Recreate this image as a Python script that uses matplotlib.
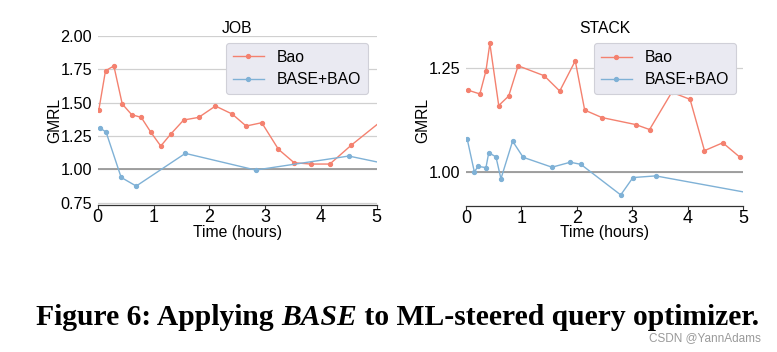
import matplotlib
matplotlib.use("Agg")
import matplotlib.pyplot as plt

# JOB panel
job_bao_t = [0.02, 0.14, 0.29, 0.44, 0.61, 0.78, 0.95, 1.13, 1.31, 1.54, 1.81,
             2.11, 2.41, 2.66, 2.94, 3.24, 3.52, 3.82, 4.16, 4.54, 5.3]
job_bao_v = [1.445, 1.74, 1.775, 1.49, 1.41, 1.39, 1.28, 1.175, 1.265, 1.37, 1.39,
             1.475, 1.415, 1.325, 1.35, 1.15, 1.05, 1.04, 1.04, 1.18, 1.435]
job_base_t = [0.04, 0.15, 0.42, 0.69, 1.57, 2.83, 4.50, 5.3]
job_base_v = [1.31, 1.28, 0.94, 0.875, 1.12, 0.995, 1.10, 1.03]

# STACK panel
stack_bao_t = [0.04, 0.25, 0.36, 0.43, 0.59, 0.77, 0.94, 1.41, 1.69, 1.97, 2.14,
               2.45, 3.06, 3.31, 3.71, 4.04, 4.30, 4.63, 4.94]
stack_bao_v = [1.197, 1.188, 1.244, 1.310, 1.160, 1.183, 1.256, 1.232, 1.195, 1.268, 1.149,
               1.131, 1.114, 1.102, 1.192, 1.175, 1.051, 1.070, 1.035]
stack_base_t = [0.02, 0.15, 0.22, 0.36, 0.41, 0.54, 0.63, 0.84, 1.03, 1.55, 1.88,
                2.07, 2.79, 3.01, 3.42, 5.3]
stack_base_v = [1.080, 1.000, 1.013, 1.010, 1.046, 1.036, 0.983, 1.074, 1.035, 1.011, 1.023,
                1.018, 0.944, 0.986, 0.990, 0.944]

xticks = [0, 1, 2, 3, 4, 5]
job_yticks = [0.75, 1.00, 1.25, 1.50, 1.75, 2.00]
stack_yticks = [1.00, 1.25]

bao_color = "#f4816f"
base_color = "#7fb1d6"

plt.rcParams["font.family"] = ["Liberation Sans", "DejaVu Sans"]
plt.rcParams["font.size"] = 11.3

fig = plt.figure(figsize=(7.77, 3.52), dpi=100)


def draw_panel(ax, title, bao_t, bao_v, base_t, base_v, ylim, yticks, leg_anchor):
    ax.plot(bao_t, bao_v, color=bao_color, lw=1.0, marker="o", ms=2.8, label="Bao", zorder=3)
    ax.plot(base_t, base_v, color=base_color, lw=1.0, marker="o", ms=2.8, label="BASE+BAO", zorder=3)
    ax.axhline(1.0, color="#999999", lw=1.3, zorder=2)
    ax.set_xlim(0, 5)
    ax.set_ylim(*ylim)
    ax.set_xticks(xticks)
    ax.set_yticks(yticks)
    ax.set_yticklabels(["%.2f" % v for v in yticks])
    ax.grid(axis="y", color="#d0d0d0", lw=0.9, zorder=1)
    for s in ["top", "right", "left"]:
        ax.spines[s].set_visible(False)
    ax.spines["bottom"].set_color("#333333")
    ax.spines["bottom"].set_linewidth(0.9)
    ax.tick_params(axis="y", length=0, pad=4, labelsize=11.7)
    ax.tick_params(axis="x", length=3, width=0.8, color="#333333", pad=0, labelsize=13)
    ax.set_xlabel("Time (hours)", fontsize=11.3, labelpad=-1)
    ax.set_ylabel("GMRL", fontsize=11.3, labelpad=-1)
    ax.set_title(title, fontsize=11.3, pad=1)
    leg = ax.legend(loc="upper right", bbox_to_anchor=leg_anchor, borderaxespad=0,
                    fontsize=11.3, frameon=True, facecolor="#eaeaf2", edgecolor="#d0d0d8",
                    framealpha=1.0, handlelength=2.0, handletextpad=0.8,
                    borderpad=0.45, labelspacing=0.45)
    leg.get_frame().set_linewidth(0.8)
    leg.set_zorder(5)


ax1 = fig.add_axes([97.7 / 777, 147 / 352, 279 / 777, 169 / 352])
draw_panel(ax1, "JOB", job_bao_t, job_bao_v, job_base_t, job_base_v,
           (0.733, 2.0), job_yticks, (0.969, 0.959))

ax2 = fig.add_axes([466 / 777, 146.3 / 352, 277.3 / 777, 169.7 / 352])
draw_panel(ax2, "STACK", stack_bao_t, stack_bao_v, stack_base_t, stack_base_v,
           (0.918, 1.328), stack_yticks, (0.974, 0.959))

# caption with italic BASE
parts = [("Figure 6: Applying ", "normal"), ("BASE", "italic"),
         (" to ML-steered query optimizer.", "normal")]
fig.canvas.draw()
renderer = fig.canvas.get_renderer()
x = 36 / 777
for txt, style in parts:
    t = fig.text(x, 1 - 325 / 352, txt, family="Liberation Serif", weight="bold",
                 style=style, fontsize=21.3, va="baseline", ha="left")
    bb = t.get_window_extent(renderer)
    x += bb.width / fig.bbox.width

fig.text(761 / 777, 1 - 338 / 352, "CSDN @YannAdams", fontsize=8.5, color="#9a9a9a",
         ha="right", va="center")

fig.savefig("out.png", dpi=100)
